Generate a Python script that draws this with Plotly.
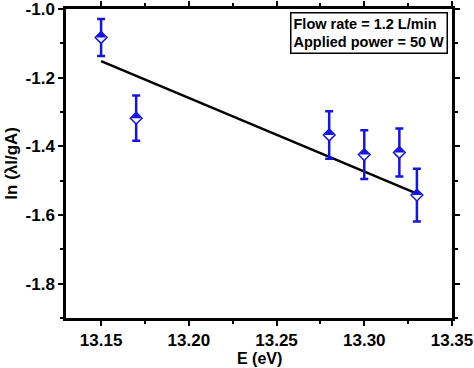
import plotly.graph_objects as go

# Data
energy = [13.15, 13.17, 13.28, 13.30, 13.32, 13.33]
ln_val = [-1.083, -1.318, -1.367, -1.424, -1.418, -1.542]
err = [0.054, 0.066, 0.069, 0.071, 0.070, 0.077]
fit_x = [13.15, 13.33]
fit_y = [-1.152, -1.538]
x_ticks = [13.15, 13.20, 13.25, 13.30, 13.35]
y_ticks = [-1.0, -1.2, -1.4, -1.6, -1.8]
note_lines = ["Flow rate = 1.2 L/min", "Applied power = 50 W"]

BLUE = "#1414e6"
FONT = "Liberation Sans, Arial, sans-serif"

fig = go.Figure()

fig.add_trace(go.Scatter(
    x=fit_x, y=fit_y, mode="lines",
    line=dict(color="black", width=2.5),
    hoverinfo="skip", showlegend=False))

fig.add_trace(go.Scatter(
    x=energy, y=ln_val, mode="markers",
    error_y=dict(type="data", array=err, visible=True,
                 color=BLUE, thickness=2.5, width=4),
    marker=dict(symbol="diamond", size=9, color="white",
                line=dict(color=BLUE, width=1.5)),
    hoverinfo="skip", showlegend=False))

# top-half fill of the diamonds
fig.add_trace(go.Scatter(
    x=energy, y=ln_val, mode="markers",
    marker=dict(symbol="triangle-down", angle=180, standoff=2.1,
                size=8.4, color=BLUE, line=dict(width=0)),
    hoverinfo="skip", showlegend=False))

axis_common = dict(
    showline=True, linecolor="black", linewidth=2.5, mirror="allticks",
    ticks="outside", ticklen=5, tickwidth=2, tickcolor="black",
    showgrid=False, zeroline=False, automargin=False,
    ticklabeloverflow="allow",
    tickfont=dict(family=FONT, size=17, color="black", weight="bold"),
)

fig.update_xaxes(
    range=[13.13, 13.35], tickvals=x_ticks,
    ticktext=[f"{v:.2f}" for v in x_ticks],
    minor=dict(ticks="outside", ticklen=3, tickwidth=2, tickcolor="black", dtick=0.025, tick0=13.125),
    **axis_common)

fig.update_yaxes(
    range=[-1.9, -1.0], tickvals=y_ticks,
    ticktext=[f"{v:.1f}" for v in y_ticks],
    minor=dict(ticks="outside", ticklen=3, tickwidth=2, tickcolor="black", dtick=0.1, tick0=-1.9),
    **axis_common)

fig.add_annotation(
    xref="paper", yref="paper", x=0.99, y=0.99,
    xanchor="right", yanchor="top", showarrow=False, align="left",
    text="<b>" + "<br>".join(note_lines) + "</b>",
    font=dict(family=FONT, size=14.5, color="black"),
    bordercolor="black", borderwidth=1.5, borderpad=2, bgcolor="white")

# axis titles
fig.add_annotation(
    xref="paper", yref="paper", x=0.5, y=-0.132, xanchor="center", yanchor="middle",
    showarrow=False, text="<b>E (eV)</b>",
    font=dict(family=FONT, size=16, color="black"))
fig.add_annotation(
    xref="paper", yref="paper", x=-0.142, y=0.5, xanchor="center", yanchor="middle",
    showarrow=False, text="<b>ln (λI/gA)</b>", textangle=-90,
    font=dict(family=FONT, size=17, color="black"))

fig.update_layout(
    width=474, height=368,
    margin=dict(l=66, r=22, t=9, b=50),
    plot_bgcolor="white", paper_bgcolor="white",
    font=dict(family=FONT, color="black"))

fig.write_html("out.html",
               config={"displayModeBar": False},
               post_script="document.body.style.margin='0';document.body.style.padding='0';")
